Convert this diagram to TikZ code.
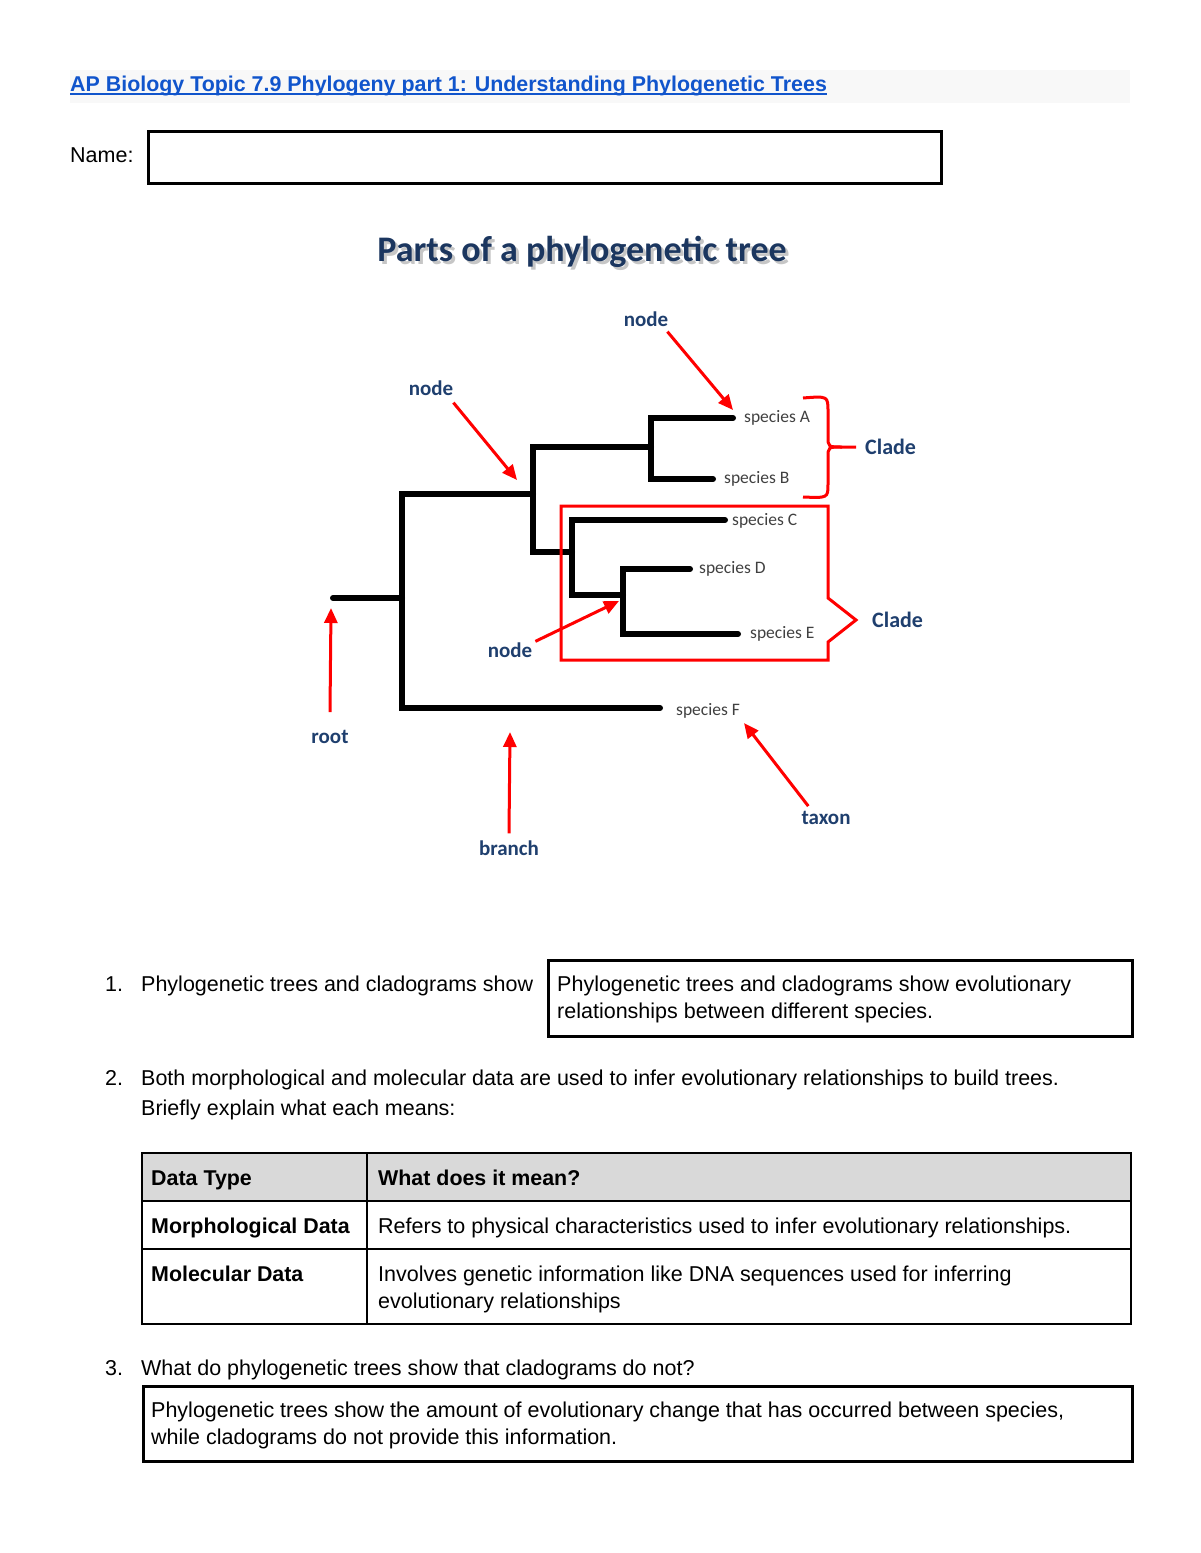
\documentclass[tikz,border=0pt]{standalone}
\usepackage{fontspec}
\setmainfont{Liberation Sans}
\newfontfamily\calibri{Carlito}
\usetikzlibrary{arrows.meta}

\definecolor{linkblue}{HTML}{1155CC}
\definecolor{navy}{HTML}{1F3F6E}
\definecolor{titlenavy}{HTML}{1B365F}
\definecolor{spgray}{HTML}{404040}
\definecolor{hdrgray}{HTML}{D9D9D9}
\definecolor{bandgray}{HTML}{F8F8F8}

\tikzset{
  treeline/.style={line width=6pt, line cap=round, line join=miter},
  redarrow/.style={red, line width=3pt, -{Triangle[length=15pt,width=13pt]}},
  redline/.style={red, line width=3pt},
  lbl/.style={text=navy, font=\calibri\bfseries\fontsize{21}{21}\selectfont, inner sep=1pt},
  species/.style={text=spgray, font=\calibri\fontsize{17.5}{17.5}\selectfont, anchor=west, inner sep=2pt},
  body/.style={font=\fontsize{21.5}{26}\selectfont, anchor=base west, inner sep=0pt},
  bodybf/.style={body, font=\fontsize{21.4}{26}\selectfont\bfseries},
  ansbox/.style={draw, line width=2.5pt, anchor=north west, inner sep=0pt},
}

\begin{document}
\begin{tikzpicture}[x=1pt, y=-1pt]
\useasboundingbox (0,0) rectangle (1200,1553);

% header
\fill[bandgray] (70,70) rectangle (1130,103);
\node[anchor=base west, inner sep=0pt, text=linkblue, font=\fontsize{21.4}{24}\selectfont\bfseries] (title) at (70,91) {AP Biology Topic 7.9 Phylogeny part 1: Understanding Phylogenetic Trees};
\draw[linkblue, line width=1.5pt] ([yshift=-3pt]title.base west) -- ([yshift=-3pt]title.base east);

\node[body] (namelbl) at (70,162) {Name:};
\node[ansbox, line width=3pt, minimum width=793pt, minimum height=52pt] (namebox) at (147,130) {};

% diagram title
\node[text=gray!45, font=\calibri\bfseries\fontsize{36}{36}\selectfont] (ttlshadow) at (585,255) {Parts of a phylogenetic tree};
\node[text=titlenavy, font=\calibri\bfseries\fontsize{36}{36}\selectfont] (ttl) at (582,252) {Parts of a phylogenetic tree};

% tree
\coordinate (root) at (333,598);
\coordinate (n0) at (402,598);
\coordinate (n1) at (533,494);
\coordinate (n2) at (651,447);
\coordinate (n3) at (572,552);
\coordinate (n4) at (623,595);
\coordinate (tA) at (733,418);
\coordinate (tB) at (713,479);
\coordinate (tC) at (725,520);
\coordinate (tD) at (690,569);
\coordinate (tE) at (738,634);
\coordinate (tF) at (660,708);

\draw[treeline] (root) -- (n0);
\draw[treeline] (n1) -| (n0) |- (tF);
\draw[treeline] (n2) -| (n1) |- (n3);
\draw[treeline] (tA) -| (n2) |- (tB);
\draw[treeline] (tC) -| (n3) |- (n4);
\draw[treeline] (tD) -| (n4) |- (tE);

\node[species] (spA) at (742,418) {species A};
\node[species] (spB) at (722,479) {species B};
\node[species] (spC) at (730,521) {species C};
\node[species] (spD) at (697,569) {species D};
\node[species] (spE) at (748,634) {species E};
\node[species] (spF) at (674,711) {species F};

% clades
\draw[redline] (803,398) .. controls (828,396) .. (828,412) -- (828,436)
  .. controls (828,447) .. (842,447) -- (856,447);
\draw[redline] (842,447) .. controls (828,447) .. (828,458) -- (828,484)
  .. controls (828,498) .. (803,497);
\draw[redline] (828,598) -- (828,506) -- (561,506) -- (561,660) -- (828,660)
  -- (828,642) -- (856,620) -- cycle;
\node[lbl, anchor=west, font=\calibri\bfseries\fontsize{22}{22}\selectfont] (clade1) at (864,447) {Clade};
\node[lbl, anchor=west, font=\calibri\bfseries\fontsize{22}{22}\selectfont] (clade2) at (871,620) {Clade};

% labels and arrows
\coordinate (hA) at (733,410);
\coordinate (hB) at (517,480);
\coordinate (hC) at (619,601);
\coordinate (hRoot) at (331,608);
\coordinate (hBranch) at (510,732);
\coordinate (hTaxon) at (744,723);

\node[lbl] (nodeA) at (646,319) {node};
\node[lbl] (nodeB) at (431,388) {node};
\node[lbl] (nodeC) at (510,650) {node};
\node[lbl] (rootlbl) at (330,737) {root};
\node[lbl] (branchlbl) at (509,848) {branch};
\node[lbl] (taxonlbl) at (826,818) {taxon};

\draw[redarrow] ([shift={(-2pt,-4pt)}]nodeA.south east) -- (hA);
\draw[redarrow] ([shift={(-1pt,-6pt)}]nodeB.south east) -- (hB);
\draw[redarrow] ([shift={(2pt,0pt)}]nodeC.north east) -- (hC);
\draw[redarrow] ([yshift=17pt]rootlbl.north) -- (hRoot);
\draw[redarrow] ([yshift=6pt]branchlbl.north) -- (hBranch);
\draw[redarrow] ([shift={(8pt,4pt)}]taxonlbl.north west) -- (hTaxon);

% question 1
\node[body] (q1num) at (105,991) {1.};
\node[body] (q1) at (141,991) {Phylogenetic trees and cladograms show};
\node[ansbox, minimum width=584pt, minimum height=76pt] (a1box) at (547,959) {};
\node[body] (a1a) at (557,991) {Phylogenetic trees and cladograms show evolutionary};
\node[body] (a1b) at (557,1018) {relationships between different species.};

% question 2
\node[body] (q2num) at (105,1085) {2.};
\node[body] (q2a) at (141,1085) {Both morphological and molecular data are used to infer evolutionary relationships to build trees.};
\node[body] (q2b) at (141,1115) {Briefly explain what each means:};

\fill[hdrgray] (142,1153) rectangle (1131,1201);
\draw[line width=2pt] (142,1201) -- (1131,1201);
\draw[line width=2pt] (142,1249) -- (1131,1249);
\draw[line width=2pt] (367,1153) -- (367,1324);
\draw[line width=2.5pt] (142,1153) rectangle (1131,1324);

\node[bodybf] (h1) at (151,1185) {Data Type};
\node[bodybf] (h2) at (378,1185) {What does it mean?};
\node[bodybf] (r1a) at (151,1233) {Morphological Data};
\node[body] (r1b) at (378,1233) {Refers to physical characteristics used to infer evolutionary relationships.};
\node[bodybf] (r2a) at (151,1281) {Molecular Data};
\node[body] (r2b) at (378,1281) {Involves genetic information like DNA sequences used for inferring};
\node[body] (r2c) at (378,1308) {evolutionary relationships};

% question 3
\node[body] (q3num) at (105,1375) {3.};
\node[body] (q3) at (141,1375) {What do phylogenetic trees show that cladograms do not?};
\node[ansbox, minimum width=989pt, minimum height=75pt] (a3box) at (142,1385) {};
\node[body] (a3a) at (151,1417) {Phylogenetic trees show the amount of evolutionary change that has occurred between species,};
\node[body] (a3b) at (151,1444) {while cladograms do not provide this information.};
\end{tikzpicture}
\end{document}
